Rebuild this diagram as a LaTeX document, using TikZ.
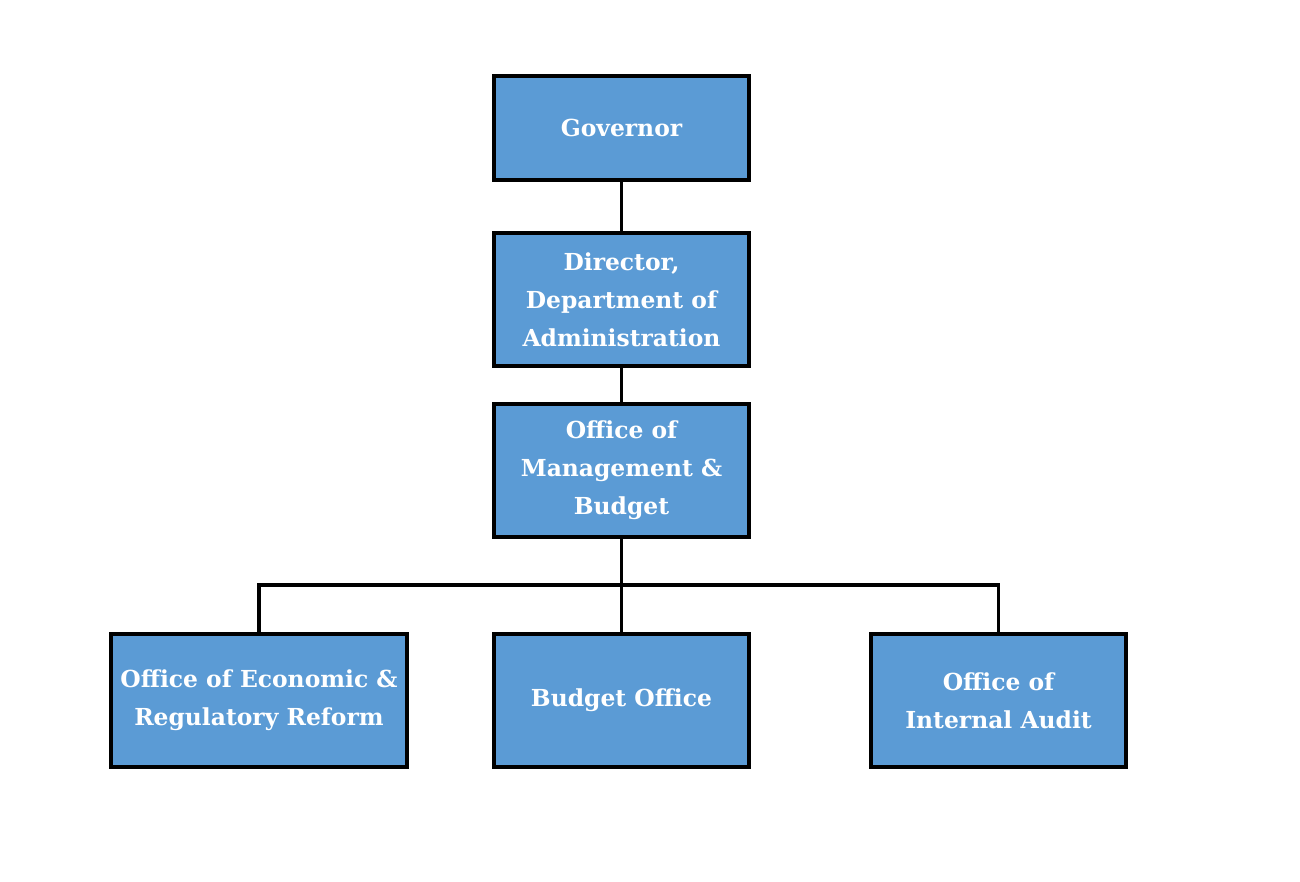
\documentclass[tikz,border=0pt]{standalone}
\usepackage{fontspec}
\setmainfont{DejaVu Serif}
\definecolor{boxblue}{HTML}{5B9BD5}
\begin{document}
\begin{tikzpicture}[x=1bp,y=-1bp,
  orgbox/.style={draw=black,line width=3.2bp,fill=boxblue,text=white,
    font=\bfseries\fontsize{23.5}{38}\selectfont,align=center,inner sep=0pt},
  link/.style={draw=black,line width=3.2bp}]
\useasboundingbox (0,0) rectangle (1300,881);
\node[orgbox,minimum width=255bp,minimum height=104bp] (gov) at (621.5,128) {Governor};
\node[orgbox,minimum width=255bp,minimum height=133bp] (dir) at (621.5,299.5) {Director,\\Department of\\Administration};
\node[orgbox,minimum width=255bp,minimum height=133bp] (omb) at (621.5,470.5) {Office of\\Management \&\\Budget};
\node[orgbox,minimum width=296bp,minimum height=133bp] (eco) at (259,700.5) {Office of Economic \&\\Regulatory Reform};
\node[orgbox,minimum width=255bp,minimum height=133bp] (bud) at (621.5,700.5) {Budget Office};
\node[orgbox,minimum width=255bp,minimum height=133bp] (aud) at (998.5,700.5) {Office of\\Internal Audit};
\coordinate (bus) at (621.5,585);
\draw[link] (gov.south) -- (dir.north);
\draw[link] (dir.south) -- (omb.north);
\draw[link] (omb.south) -- (bud.north);
\draw[link] (eco.north) |- (bus) -| (aud.north);
\end{tikzpicture}
\end{document}
